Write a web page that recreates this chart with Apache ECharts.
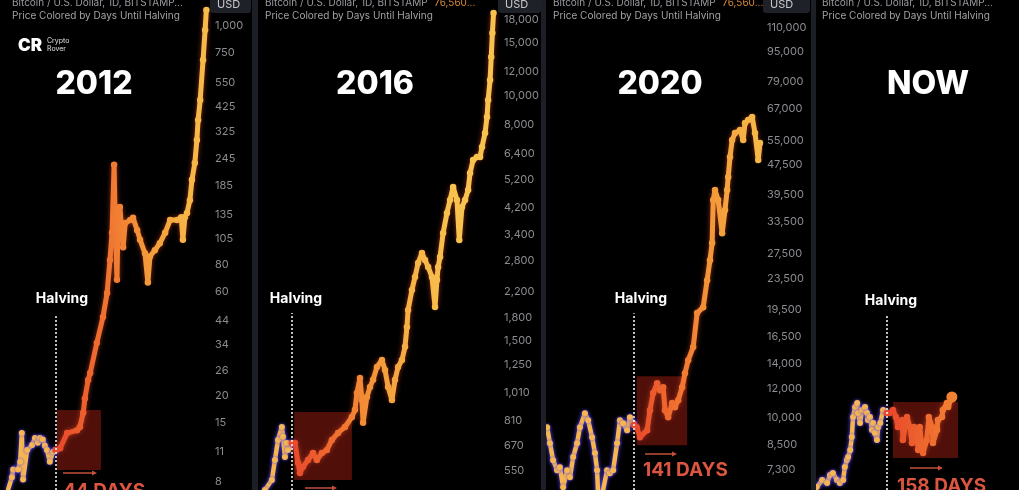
<!DOCTYPE html>
<html>
<head>
<meta charset="utf-8">
<script src="https://cdn.jsdelivr.net/npm/echarts@6/dist/echarts.min.js"></script>
<style>
  html, body { margin: 0; padding: 0; background: #000; }
  #main { width: 1019px; height: 490px; }
</style>
</head>
<body>
<div id="main"></div>
<script>
// days are counted from each halving (day 0), prices in USD
const days2012 = [-116, -106, -103, -91, -86, -82, -79, -69, -57, -50, -43, -38, -31, -26, -21, -14, -6, 0,
  11, 28, 52, 59, 67, 71, 79, 84, 100, 115, 125, 132, 137, 142, 144, 149, 152, 156, 164, 169, 181, 188,
  198, 205, 217, 224, 229, 241, 253, 266, 278, 295, 305, 309, 314, 319, 326, 331, 338, 343, 346, 351, 358, 363, 366]
const price2012 = [7.3, 8.4, 9.1, 9.1, 9.9, 13.4, 8.2, 11.2, 11.8, 12.7, 12.1, 12.7, 12.5, 11.7, 11.2, 9.9, 11.0, 11.2,
  11.4, 13.4, 13.8, 14.3, 16.6, 19.3, 23.5, 25.3, 34.8, 45.8, 59.1, 83.8, 112, 230, 147, 68, 142, 147, 96, 124, 128, 131,
  115, 104, 90, 66, 87, 93, 100, 112, 128, 128, 132, 104, 132, 138, 158, 196, 234, 299, 369, 457, 698, 958, 1185]

const days2016 = [-70, -52, -44, -36, -26, -23, -18, -13, -10, 0,
  8, 16, 21, 29, 42, 55, 65, 78, 91, 104, 120, 138, 156, 164, 169, 177, 182, 185, 195, 203,
  211, 221, 234, 242, 250, 260, 268, 276, 286, 294, 299, 302, 312, 320, 328, 338, 346, 354, 364, 372,
  377, 380, 385, 393, 403, 411, 419, 429, 435, 442, 450, 458, 463, 471, 481, 489, 494, 502, 507, 510,
  515, 518, 521, 524]
const price2016 = [475, 513, 599, 699, 773, 716, 613, 683, 647, 683,
  683, 586, 542, 568, 599, 632, 599, 632, 647, 699, 738, 773, 835, 882, 1005, 1129, 952, 798, 975, 1053,
  1112, 1229, 1297, 1201, 1053, 952, 1112, 1229, 1297, 1435, 1674, 1908, 2228, 2463, 2744, 2963, 2807, 2660, 2463, 1952,
  2406, 2660, 2872, 3459, 4037, 4464, 4933, 4464, 3277, 4229, 4464, 4822, 5496, 6079, 6221, 6221, 6720, 7486, 8474, 9660,
  11270, 13460, 16200, 18900]

const days2020 = [-243, -235, -226, -215, -207, -198, -187, -179, -170, -159, -151, -137, -128, -117, -109, -103, -98, -88,
  -75, -67, -58, -47, -39, -30, -19, -11, -2, 0,
  8, 17, 37, 45, 54, 65, 73, 82, 87, 96, 107, 115, 124, 135, 143, 152, 166, 177, 194, 205,
  213, 219, 222, 227, 236, 247, 255, 261, 264, 269, 275, 283, 297, 306, 311, 320, 331, 339, 348, 353]
const price2020 = [9455, 8572, 7718, 7262, 7394, 6536, 7262, 6950, 7868, 8572, 9455, 10300, 9872, 8891, 8063, 7262, 5600, 6300,
  7262, 7125, 7262, 8572, 9872, 9693, 9285, 10054, 9693, 9600,
  9455, 8891, 9285, 10500, 11659, 12393, 11868, 12086, 10500, 10054, 10965, 10695, 11167, 12086, 13180, 14280, 15470, 19070, 19780, 23340,
  26400, 29330, 38190, 40630, 38190, 31170, 35920, 40630, 44010, 49770, 55230, 57660, 58750, 55230, 61340, 62460, 63640, 57660, 48850, 54240]

const days2024 = [-170, -157, -145, -138, -131, -121, -114, -106, -102, -97, -94, -89, -85, -82, -77, -72, -70, -65, -60, -53,
  -48, -46, -41, -36, -33, -29, -24, -21, -16, -9, 0,
  7, 15, 22, 27, 37, 39, 49, 56, 61, 66, 73, 76, 80, 85, 88, 97, 102, 110, 112, 122, 124, 134, 136, 146, 149, 158]
const price2024 = [44010, 45950, 45120, 47390, 47970, 45950, 45120, 45950, 49780, 51970, 52930, 55260, 59860, 67700, 72000, 73790, 69390, 65250, 70680, 72000,
  69390, 66460, 67700, 62500, 65250, 61350, 58770, 63660, 65250, 70680, 69390,
  69390, 70680, 67700, 63660, 66460, 58770, 67700, 63660, 57700, 63660, 59860, 55260, 63660, 56300, 54250, 58770, 67700, 63660, 57700, 62500, 66460, 67700, 70680, 73790, 72000, 76560]

// right axis tick labels
const ticks2012 = [8, 11, 15, 20, 26, 34, 44, 60, 80, 105, 135, 185, 245, 325, 425, 550, 750, 1000]
const ticks2016 = [550, 670, 810, 1010, 1250, 1500, 1800, 2200, 2800, 3400, 4200, 5200, 6400, 8000, 10000, 12000, 15000, 18000]
const ticks2020 = [7300, 8500, 10000, 12000, 14000, 16500, 19500, 23500, 27500, 33500, 39500, 47500, 55000, 67000, 79000, 95000, 110000]

// red boxes after halving: [fromDay, toDay, lowPrice, highPrice]
const box2012 = [3, 110, 9.06, 17.1]
const box2016 = [6, 156, 513, 868]
const box2020 = [8, 149, 8460, 12940]
const box2024 = [15, 173, 52610, 74240]

const titles = ['2012', '2016', '2020', 'NOW']
const daysLabels = ['44 DAYS', '', '141 DAYS', '158 DAYS']

let chart = echarts.init(document.getElementById('main'))

let panels = [
  { days: days2012, price: price2012, ticks: ticks2012, box: box2012, left: 0, width: 208, xMin: -135, xMax: 370, yMin: 7.33, yMax: 1317, halvTop: 46.8 },
  { days: days2016, price: price2016, ticks: ticks2016, box: box2016, left: 258, width: 239, xMin: -88, xMax: 533, yMin: 475, yMax: 20910, halvTop: 1865 },
  { days: days2020, price: price2020, ticks: ticks2020, box: box2020, left: 546, width: 214, xMin: -246, xMax: 353, yMin: 6427, yMax: 130670, halvTop: 19060 },
  { days: days2024, price: price2024, ticks: null, box: box2024, left: 816, width: 203, xMin: -172, xMax: 321, yMin: 43220, yMax: 879000, halvTop: 126800 }
]

let grids = [], xAxes = [], yAxes = [], series = []
let postIdx = []

panels.forEach(function (p, i) {
  grids.push({ left: p.left, top: 0, width: p.width, height: 490, outerBoundsMode: 'none' })
  xAxes.push({ type: 'value', gridIndex: i, min: p.xMin, max: p.xMax, show: false })
  yAxes.push({
    type: 'log', gridIndex: i, position: 'right', min: p.yMin, max: p.yMax,
    axisLine: { show: false }, axisTick: { show: false }, splitLine: { show: false },
    axisLabel: {
      show: !!p.ticks, customValues: p.ticks || [], margin: 7,
      color: '#8c8c91', fontSize: 11, fontFamily: 'Inter',
      formatter: function (v) { return Math.round(v).toLocaleString('en-US') }
    }
  })
  let pre = [], post = []
  p.days.forEach(function (d, k) {
    if (d <= 0) pre.push([d, p.price[k]])
    if (d >= 0) post.push([d, p.price[k]])
  })
  if (i === 3) {
    let last = post[post.length - 1]
    post[post.length - 1] = { value: last, symbolSize: 11 }
  }
  series.push({
    type: 'line', xAxisIndex: i, yAxisIndex: i, data: pre, z: 3,
    symbol: 'circle', symbolSize: 6, showAllSymbol: true,
    lineStyle: { color: '#f6b650', width: 4.5, shadowColor: '#5a48ff', shadowBlur: 4 },
    itemStyle: { color: '#f6b650', shadowColor: '#5a48ff', shadowBlur: 3 },
    emphasis: { disabled: true },
    markLine: {
      silent: true, symbol: 'none', label: { show: false },
      lineStyle: { color: '#ffffff', type: [2, 2], width: 1.5 },
      data: [[{ coord: [0, p.yMin] }, { coord: [0, p.halvTop] }]]
    }
  })
  postIdx.push(series.length)
  series.push({
    type: 'line', xAxisIndex: i, yAxisIndex: i, data: post, z: 3,
    symbol: 'circle', symbolSize: 6.5, showAllSymbol: true,
    lineStyle: { width: 5, shadowColor: 'rgba(255,90,40,0.55)', shadowBlur: 5 },
    emphasis: { disabled: true },
    markArea: {
      silent: true,
      itemStyle: { color: 'rgba(135,25,15,0.6)' },
      data: [[{ coord: [p.box[0], p.box[2]] }, { coord: [p.box[1], p.box[3]] }]]
    }
  })
})

let graphics = []
// panel separators
;[[252, 6], [541, 5], [811, 5]].forEach(function (s) {
  graphics.push({ type: 'rect', shape: { x: s[0], y: 0, width: s[1], height: 490 }, style: { fill: '#1d1f26' }, z: 10 })
})
// USD boxes
;[[210, 41], [498, 43], [763, 47]].forEach(function (b) {
  graphics.push({ type: 'rect', shape: { x: b[0], y: -5, width: b[1], height: 18, r: 3 }, style: { fill: '#1f2128' }, z: 11 })
  graphics.push({ type: 'text', x: b[0] + 7, y: 5, style: { text: 'USD', fill: '#c8c8cd', fontSize: 11, fontFamily: 'Inter', verticalAlign: 'middle' }, z: 12 })
})
// header texts
let hdrX = [12, 265, 553, 822]
hdrX.forEach(function (x, i) {
  let orange = (i === 1 || i === 2)
  graphics.push({
    type: 'text', x: x, y: 3, z: 12,
    style: {
      text: orange ? '{a|Bitcoin / U.S. Dollar, 1D, BITSTAMP}  {b|76,560...}' : '{a|Bitcoin / U.S. Dollar, 1D, BITSTAMP...}',
      verticalAlign: 'middle',
      rich: {
        a: { fill: '#9a9aa0', fontSize: 10, fontFamily: 'Inter' },
        b: { fill: '#d98a3c', fontSize: 10, fontFamily: 'Inter' }
      }
    }
  })
  graphics.push({ type: 'text', x: x, y: 16, z: 12, style: { text: 'Price Colored by Days Until Halving', fill: '#a2a2a7', fontSize: 10, fontFamily: 'Inter', verticalAlign: 'middle' } })
})
// big titles
let titleX = [94, 375, 660, 928]
titles.forEach(function (t, i) {
  graphics.push({ type: 'text', x: titleX[i], y: 84, z: 12, style: { text: t, fill: '#ffffff', fontSize: 32, fontWeight: 800, fontFamily: 'Inter', align: 'center', verticalAlign: 'middle' } })
})
// Halving labels
let halvX = [62, 296, 641, 891]
halvX.forEach(function (x, i) {
  graphics.push({ type: 'text', x: x, y: i === 3 ? 301 : 299, z: 12, style: { text: 'Halving', fill: '#ffffff', fontSize: 14, fontWeight: 'bold', fontFamily: 'Inter', align: 'center', verticalAlign: 'middle' } })
})
// arrows and day counts
let arrows = [[63, 97, 473], [305, 337, 488], [645, 677, 454], [910, 943, 468]]
arrows.forEach(function (a) {
  graphics.push({ type: 'line', shape: { x1: a[0], y1: a[2], x2: a[1] - 3, y2: a[2] }, style: { stroke: '#c4503b', lineWidth: 1.5 }, z: 12 })
  graphics.push({ type: 'polygon', shape: { points: [[a[1] - 5, a[2] - 2.5], [a[1], a[2]], [a[1] - 5, a[2] + 2.5]] }, style: { fill: '#c4503b' }, z: 12 })
})
let daysPos = [[63, 482], [0, 0], [643, 461], [897, 477]]
daysLabels.forEach(function (t, i) {
  if (!t) return
  graphics.push({ type: 'text', x: daysPos[i][0], y: daysPos[i][1], z: 12, style: { text: t, fill: '#dc5540', fontSize: 19, fontWeight: 'bold', fontFamily: 'Inter', verticalAlign: 'top' } })
})
// Crypto Rover logo
graphics.push({ type: 'text', x: 18, y: 46, z: 12, style: { text: 'CR', fill: '#ffffff', fontSize: 17, fontWeight: 900, fontFamily: 'Inter', verticalAlign: 'middle' } })
graphics.push({ type: 'text', x: 47, y: 41, z: 12, style: { text: 'Crypto', fill: '#e0e0e0', fontSize: 7, fontFamily: 'Inter', verticalAlign: 'middle' } })
graphics.push({ type: 'text', x: 47, y: 49, z: 12, style: { text: 'Rover', fill: '#e0e0e0', fontSize: 7, fontFamily: 'Inter', verticalAlign: 'middle' } })

let option = {
  backgroundColor: '#000000',
  animation: false,
  grid: grids,
  xAxis: xAxes,
  yAxis: yAxes,
  visualMap: {
    type: 'continuous', show: false, dimension: 0, seriesIndex: postIdx,
    min: 0, max: 420,
    inRange: { color: ['#e8472b', '#ef6c2f', '#f39538', '#f6b446', '#f7c24e'] }
  },
  series: series,
  graphic: graphics
}

chart.setOption(option)
</script>
</body>
</html>
